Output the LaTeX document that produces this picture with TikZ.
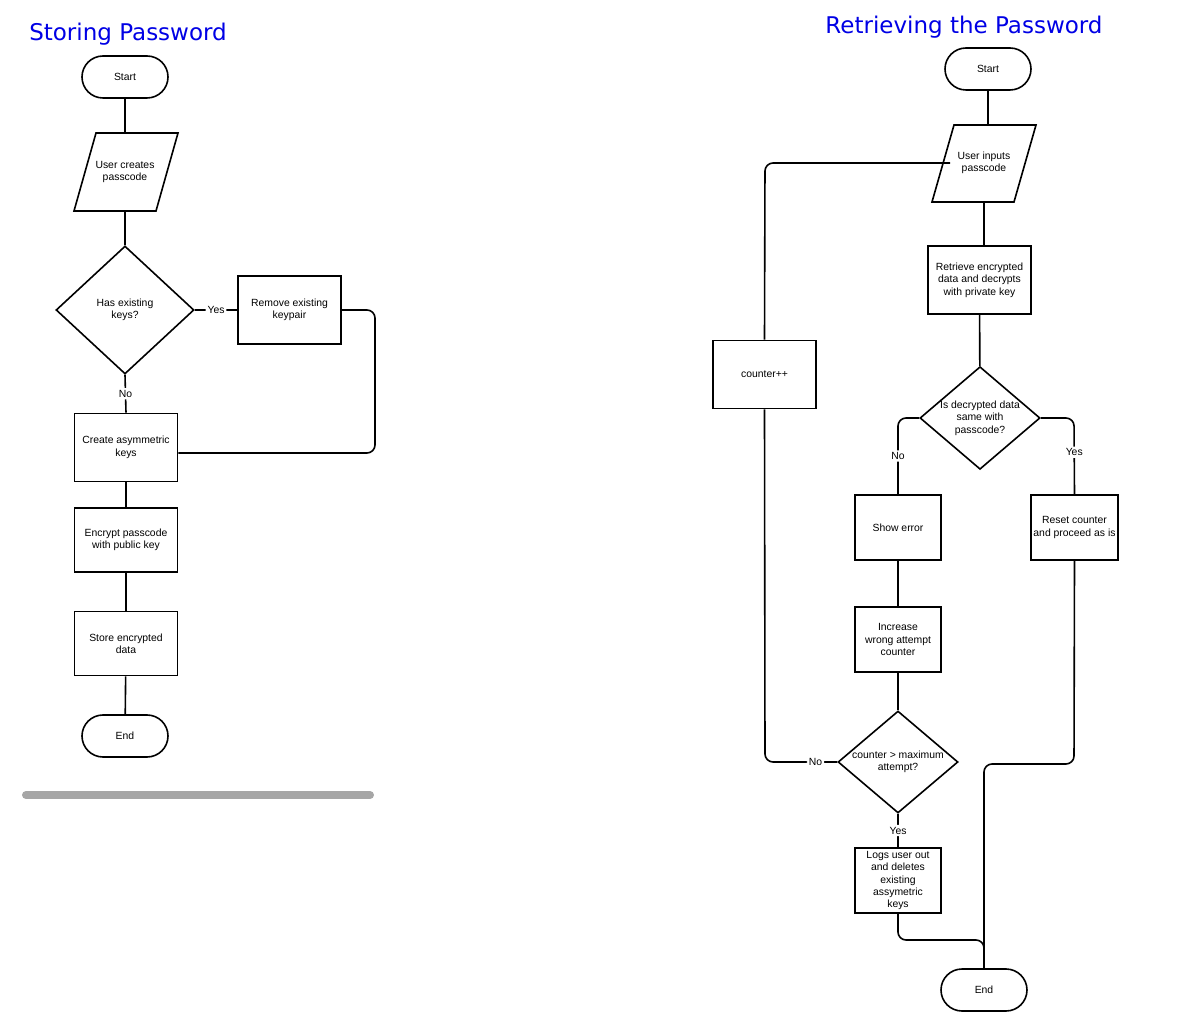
\documentclass[tikz,border=0pt]{standalone}
\usepackage{fontspec}
\setmainfont{Liberation Sans}
\newfontfamily\titlefont{DejaVu Sans}
\usetikzlibrary{shapes.geometric}
\begin{document}
\begin{tikzpicture}[x=0.5pt,y=-0.5pt,
  every node/.style={font=\fontsize{5.2}{6.2}\selectfont,align=center,inner sep=0pt},
  box/.style={draw,thick,minimum width=51.5pt,minimum height=34pt},
  term/.style={draw,thick,rounded corners=10.5pt,minimum width=43pt,minimum height=21pt},
  dia/.style={draw,thick,diamond,aspect=1.1},
  lbl/.style={fill=white,inner sep=1pt},
  ln/.style={thick,rounded corners=4pt},
  title/.style={font=\titlefont\fontsize{11.5}{14}\selectfont,text=blue!90!black}]
\useasboundingbox (0,0) rectangle (1200,1026);
\node[title] (t1) at (128,34) {Storing Password};
\node[title] (t2) at (964,27) {Retrieving the Password};
% left
\node[term] (s1) at (125,77) {Start};
\coordinate (p1) at (125,172);
\draw[thick] (96,133) -- (178,133) -- (156,211) -- (74,211) -- cycle;
\node (u1) at (p1) {User creates\\passcode};
\node[dia,minimum width=69pt,minimum height=64pt,aspect=1.08] (d1) at (125,310) {Has existing\\keys?};
\node[box] (r1) at (289.5,310) {Remove existing\\keypair};
\node[box] (c1) at (126,447.5) {Create asymmetric\\keys};
\node[box,minimum height=32pt] (e1) at (126,540) {Encrypt passcode\\with public key};
\node[box,minimum height=32pt] (st1) at (126,643.5) {Store encrypted\\data};
\node[term] (en1) at (125,736) {End};
\draw[ln] (s1) -- (125,133);
\draw[ln] (125,211) -- (d1.north);
\draw[ln] (d1.east) -- node[lbl] {Yes} (r1.west);
\draw[ln] (d1.south) -- node[lbl] {No} (c1.north);
\draw[ln] (r1.east) -- (375,310) -- (375,453) -- (c1.east |- 0,453);
\draw[ln] (c1) -- (e1); \draw[ln] (e1) -- (st1); \draw[ln] (st1) -- (en1);
\draw[line width=4pt,line cap=round,gray!70] (26,795) -- (370,795);
% right
\node[term] (s2) at (988,69) {Start};
\draw[thick] (954,125) -- (1036,125) -- (1014,202) -- (932,202) -- cycle;
\node (u2) at (984,163) {User inputs\\passcode};
\node[box] (rt) at (979.5,280) {Retrieve encrypted\\data and decrypts\\with private key};
\node[dia,minimum width=60pt,minimum height=51pt,aspect=1.17] (d2) at (980,418) {Is decrypted data\\same with\\passcode?};
\node[box,minimum width=43pt,minimum height=32.5pt] (se) at (898,527.5) {Show error};
\node[box,minimum width=43.5pt,minimum height=32.5pt] (rc) at (1074.5,527.5) {Reset counter\\and proceed as is};
\node[box,minimum width=43pt,minimum height=32.5pt] (ic) at (898,639.5) {Increase\\wrong attempt\\counter};
\node[dia,minimum width=60pt,minimum height=51pt,aspect=1.17] (d3) at (898,762) {counter > maximum\\attempt?};
\node[box,minimum width=43pt,minimum height=32.5pt] (lg) at (898,880.5) {Logs user out\\and deletes\\existing\\assymetric\\keys};
\node[box] (cp) at (764.5,374.5) {counter++};
\node[term] (en2) at (984,990) {End};
\draw[ln] (s2) -- (988,125);
\draw[ln] (984,202) -- (rt.north -| 984,0);
\draw[ln] (rt) -- (d2);
\draw[ln] (d2.west) -- (898,418) -- node[lbl,pos=0.5] {No} (se.north);
\draw[ln] (d2.east) -- (1074,418) -- node[lbl,pos=0.45] {Yes} (rc.north);
\draw[ln] (se) -- (ic); \draw[ln] (ic) -- (d3);
\draw[ln] (d3.west) -- node[lbl,pos=0.3] {No} (765,762) -- (cp.south);
\draw[ln] (cp.north) -- (765,163) -- (950,163);
\draw[ln] (d3.south) -- node[lbl] {Yes} (lg.north);
\draw[ln] (lg.south) -- (898,940) -- (984,940) -- (984,969);
\draw[ln] (rc.south) -- (1074,764) -- (984,764) -- (en2.north);
\end{tikzpicture}
\end{document}
